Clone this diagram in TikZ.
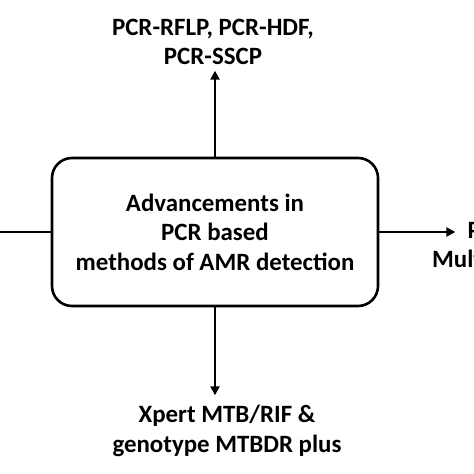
\documentclass[tikz,border=0pt]{standalone}
\usepackage{fontspec}
\setmainfont{Carlito}
\usetikzlibrary{arrows.meta}
\usetikzlibrary{positioning}

\tikzset{
  conn/.style={line width=2.6bp,black},
  arr/.style={conn,-{Triangle[length=9bp,width=9bp]}},
  lbl/.style={font=\bfseries\fontsize{25}{29.5}\selectfont,text=black,align=center,inner sep=0pt}
}

\begin{document}
\begin{tikzpicture}[x=1bp,y=-1bp]
\useasboundingbox (0,0) rectangle (474,474);
\clip (0,0) rectangle (474,474);

\node[draw,conn,rounded corners=20bp,minimum width=326bp,minimum height=148bp,lbl] (main) at (215,232) {Advancements in\\ PCR based\\ methods of AMR detection};

\node[lbl] (up) at (213,42) {PCR-RFLP, PCR-HDF,\\ PCR-SSCP};
\node[lbl] (down) at (227,431) {Xpert MTB/RIF \&\\ genotype MTBDR plus};
\node[lbl,anchor=west] (right) at (432,247) {PCR-AS\\ Multiplex PCR};
\coordinate (leftend) at (0,232);

\draw[arr] (main.north) -- ++(0,-86);
\draw[arr] (main.south) -- ++(0,88);
\draw[arr] (main.east) -- ++(76,0);
\draw[conn] (leftend) -- (main.west);

\end{tikzpicture}
\end{document}
